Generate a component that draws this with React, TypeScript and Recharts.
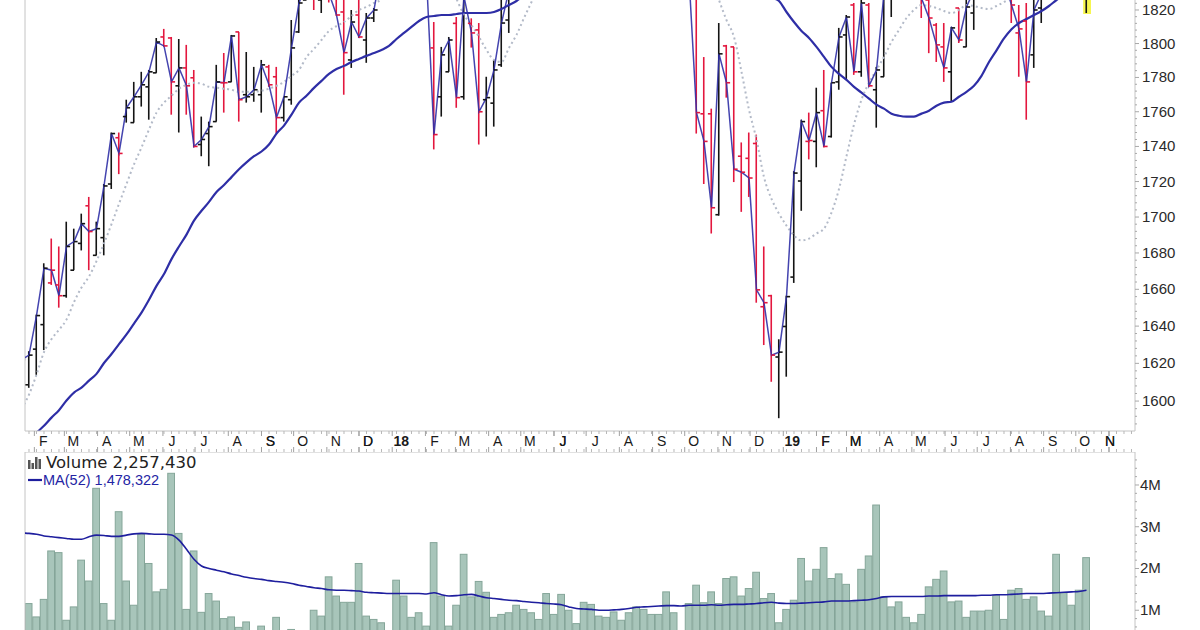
import React from "react";
import {
  ComposedChart,
  Bar,
  Line,
  Scatter,
  XAxis,
  YAxis,
  ReferenceLine,
  ReferenceArea,
} from "recharts";

// --- weekly bars, first one is the week ending 20 Jan 2017 ---
const WEEK = 7 * 24 * 3600 * 1000;
const firstWeek = Date.UTC(2017, 0, 20);

const openPx = [
  1618, 1608.6, 1627.6, 1640.8, 1663.5, 1662.4, 1656.5, 1670.5, 1685.3, 1706.3,
  1678.7, 1688.5, 1718.6, 1745.0, 1757.2, 1753.7, 1768.7, 1774.5, 1782.7, 1803.9,
  1803.3, 1775.1, 1785.6, 1779.8, 1741.1, 1747.4, 1754.3, 1776.9, 1777.4, 1806.9,
  1769.9, 1769.9, 1769.9, 1786.2, 1780.4, 1756.6, 1767.0, 1806.9, 1826.0, 1838.0,
  1826.0, 1840.0, 1832.0, 1818.8, 1790.3, 1817.0, 1802.1, 1815.2, 1830, 1846,
  1862, 1875, 1890, 1898, 1868, 1797.4, 1768.7, 1783.3, 1812.0, 1768.7,
  1812.0, 1808.1, 1767.0, 1765.0, 1787.4, 1814.0, 1832, 1845, 1856, 1866,
  1874, 1884, 1880, 1895, 1906, 1900, 1920, 1930, 1940, 1948,
  1955, 1960, 1965, 1975, 1970, 1962, 1958, 1940, 1915, 1890,
  1832, 1758.8, 1758.8, 1701.3, 1798.6, 1798.0, 1734.4, 1733.2, 1741.7, 1650.5,
  1656.5, 1623.4, 1639.8, 1666.7, 1720.3, 1742.9, 1742.9, 1760.6, 1745.7, 1777.4,
  1805.1, 1823.0, 1783.3, 1823.0, 1772.8, 1780.4, 1826.5, 1838, 1845, 1850,
  1838, 1826, 1811.0, 1798.0, 1783.3, 1821.2, 1798.0, 1818.2, 1832, 1840,
  1836, 1844, 1836, 1806.3, 1813.4, 1793.3, 1821.2, 1830, 1838, 1832,
  1840, 1836, 1832,
];

const highPx = [
  1629, 1626.5, 1646.2, 1674.3, 1688.0, 1683.6, 1697.4, 1693.5, 1701.9, 1711.3,
  1697.4, 1718.6, 1748.0, 1748.0, 1767.0, 1777.4, 1783.3, 1784.4, 1803.3, 1808.7,
  1803.9, 1802.7, 1799.2, 1784.4, 1757.2, 1754.3, 1787.4, 1794.4, 1805.1, 1806.9,
  1795.0, 1786.2, 1790.3, 1787.4, 1786.2, 1768.7, 1814.0, 1835.0, 1840, 1842,
  1845, 1849, 1838, 1826, 1820.0, 1826, 1818.2, 1821.2, 1850, 1868,
  1880, 1895, 1905, 1902, 1880, 1812.8, 1798.0, 1803.9, 1815.8, 1835,
  1815, 1812.2, 1780.4, 1790.3, 1828, 1838, 1848, 1860, 1870, 1880,
  1890, 1896, 1900, 1912, 1918, 1925, 1935, 1945, 1952, 1962,
  1968, 1972, 1980, 1988, 1982, 1975, 1966, 1950, 1925, 1895,
  1840, 1792.0, 1761.8, 1812.2, 1799.2, 1798.0, 1742.3, 1748.0, 1746.8, 1683.6,
  1657.0, 1632.9, 1656.5, 1725.9, 1755.4, 1759.5, 1774.0, 1784.4, 1776.9, 1809.3,
  1817.0, 1824.2, 1835, 1824.2, 1786.2, 1835, 1840, 1850, 1855, 1856,
  1842, 1830, 1812.2, 1812.2, 1809.9, 1821.2, 1828, 1840, 1845, 1850,
  1848, 1852, 1840, 1823.0, 1824.2, 1826.5, 1835, 1842, 1846, 1844,
  1850, 1848, 1845,
];

const lowPx = [
  1612, 1607.0, 1613.9, 1627.1, 1662.4, 1650.0, 1655.4, 1670.5, 1681.4, 1670.5,
  1678.7, 1678.7, 1715.8, 1724.2, 1753.7, 1753.7, 1763.0, 1755.4, 1782.7, 1798.0,
  1758.3, 1748.0, 1758.3, 1739.4, 1734.4, 1728.7, 1754.3, 1759.5, 1777.4, 1754.3,
  1765.3, 1765.8, 1759.5, 1774.5, 1747.4, 1754.3, 1764.1, 1806.3, 1827, 1820.0,
  1818.2, 1824.5, 1816.5, 1769.9, 1785.6, 1803.3, 1788.6, 1812.8, 1828, 1840,
  1855, 1868, 1880, 1860, 1830, 1738.3, 1757.2, 1783.3, 1762.3, 1767.0,
  1797.6, 1741.1, 1745.7, 1751.4, 1786.2, 1806.3, 1829, 1838, 1850, 1858,
  1866, 1872, 1874, 1888, 1895, 1896, 1910, 1922, 1930, 1940,
  1945, 1950, 1956, 1962, 1955, 1948, 1930, 1905, 1880, 1830,
  1747.4, 1718.6, 1690.8, 1700.8, 1768.2, 1719.7, 1702.9, 1711.3, 1652.7, 1629.8,
  1610.2, 1591.0, 1612.9, 1663.5, 1703.5, 1732.6, 1728.1, 1739.4, 1745.1, 1772.8,
  1778.6, 1781.5, 1780.4, 1774.5, 1750.8, 1780.4, 1815.8, 1830, 1835, 1832,
  1815.2, 1794.3, 1789.1, 1777.4, 1765.8, 1800.3, 1798.0, 1808.1, 1828, 1830,
  1829, 1830, 1812.2, 1780.4, 1755.4, 1785.6, 1812.2, 1827, 1828, 1827,
  1832, 1829, 1818.2,
];

const closePx = [
  1622, 1624.4, 1645.7, 1671.6, 1670.5, 1656.5, 1683.6, 1686.3, 1696.3, 1691.9,
  1693.5, 1717.5, 1747.4, 1736.0, 1762.3, 1768.7, 1775.7, 1783.3, 1800.9, 1798.6,
  1777.4, 1785.6, 1775.1, 1740.0, 1744.0, 1751.4, 1777.4, 1776.9, 1804.5, 1767.0,
  1768.7, 1772.8, 1787.4, 1775.7, 1756.6, 1768.7, 1797.4, 1824.2, 1836, 1828,
  1838, 1830, 1817, 1794.6, 1812.8, 1803.9, 1815.2, 1820.0, 1846, 1862,
  1875, 1890, 1898, 1870, 1840, 1746.8, 1793.3, 1802.1, 1768.2, 1828,
  1806.3, 1760.0, 1768.2, 1784.4, 1812.2, 1832, 1845, 1856, 1866, 1874,
  1884, 1880, 1895, 1906, 1900, 1920, 1930, 1940, 1948, 1955,
  1960, 1965, 1975, 1970, 1962, 1958, 1940, 1915, 1890, 1840,
  1759.5, 1742.9, 1705.2, 1793.9, 1776.9, 1727.0, 1725.3, 1722.0, 1659.7, 1652.7,
  1624.4, 1626.0, 1656.0, 1724.8, 1754.3, 1743.4, 1759.5, 1740.0, 1776.9, 1803.9,
  1815.8, 1783.3, 1824.2, 1775.1, 1784.4, 1830, 1838, 1845, 1850, 1840,
  1827, 1815.2, 1799.2, 1785.6, 1809.3, 1802.1, 1821.8, 1832, 1840, 1836,
  1844, 1838, 1823.0, 1808.7, 1777.4, 1820.0, 1830, 1838, 1832, 1840,
  1836, 1834, 1840,
];

// dotted grey overlay (short average)
const maFast = [
  1596, 1603.4, 1614, 1626, 1633, 1638, 1643.5, 1653, 1661, 1667,
  1675.5, 1685.3, 1696, 1707.4, 1718.6, 1729.8, 1739.4, 1749.7, 1759.5, 1765.3,
  1769.3, 1773.4, 1775.7, 1776.9, 1776.3, 1774.5, 1774.0, 1773.4, 1772.8, 1771.6,
  1771.6, 1771.6, 1772.2, 1773.4, 1775.1, 1777.4, 1780.9, 1784.4, 1792.0, 1796.8,
  1802.1, 1807.5, 1810.4, 1812.8, 1816.4, 1820.0, 1821.8, 1824.2, 1826.5, 1835,
  1845, 1855, 1862, 1865, 1862, 1855, 1845, 1835, 1826.5, 1817,
  1811, 1803.9, 1796.2, 1790.3, 1789.1, 1797.4, 1805.1, 1815.2, 1824.8, 1835,
  1845, 1855, 1865, 1875, 1885, 1895, 1905, 1915, 1925, 1935,
  1942, 1948, 1952, 1955, 1957, 1958, 1956, 1952, 1945, 1930,
  1905, 1870, 1840, 1826, 1814, 1803.9, 1783.3, 1761.2, 1744.0, 1722.5,
  1710.2, 1701.9, 1695.2, 1689.7, 1686.9, 1688.0, 1690.8, 1693.5, 1702.5, 1715.8,
  1734.4, 1752.6, 1767.0, 1776.9, 1784.4, 1792.1, 1801.0, 1808.1, 1815.2, 1820.0,
  1823.0, 1822.4, 1821.2, 1819.4, 1818.2, 1820.0, 1823.0, 1822.4, 1821.2, 1820.6,
  1822.4, 1824.8, 1827.5, 1830, 1829, 1828, 1830, 1833, 1836, 1838,
  1840, 1842, 1844,
];

// solid blue overlay (long average)
const maSlow = [
  1575, 1578, 1583.3, 1587.0, 1591.3, 1595.2, 1600.3, 1604.5, 1607.1, 1610.8,
  1614.4, 1620.2, 1625.0, 1630.3, 1635.5, 1641.4, 1647.3, 1654.3, 1661.9, 1668.4,
  1676.6, 1683.6, 1690.2, 1698.0, 1703.5, 1708.5, 1714.1, 1718.0, 1722.5, 1727.0,
  1730.9, 1734.4, 1737.1, 1741.1, 1747.4, 1752.0, 1758.3, 1765.3, 1769.3, 1773.9,
  1778.0, 1782.1, 1785.0, 1786.8, 1789.1, 1790.9, 1792.7, 1794.4, 1796.2, 1798.6,
  1802.7, 1806.3, 1809.9, 1813.4, 1815.8, 1816.4, 1817.0, 1817.0, 1817.6, 1818.2,
  1818.2, 1818.2, 1818.2, 1818.8, 1820.6, 1823.0, 1825.4, 1829, 1832, 1835,
  1838, 1841, 1844, 1847, 1850, 1853, 1856, 1858, 1860, 1862,
  1864, 1865, 1866, 1867, 1867, 1866, 1865, 1863, 1860, 1857,
  1854, 1851, 1848, 1846, 1843, 1840, 1837, 1835, 1832, 1830,
  1827.5, 1825.4, 1818.8, 1812.8, 1807.5, 1803.3, 1798.0, 1792.1, 1786.2, 1782.1,
  1778.6, 1774.5, 1771.1, 1767.6, 1764.1, 1761.8, 1758.9, 1757.7, 1757.2, 1757.2,
  1758.9, 1760.6, 1763.5, 1765.3, 1765.8, 1768.7, 1771.6, 1775.1, 1780.9, 1789.1,
  1796.0, 1803.0, 1808.5, 1812.2, 1814.6, 1817.0, 1819.4, 1822.4, 1826.0, 1829,
  1832, 1835, 1838,
];

// volume in millions
const volume = [
  2.52, 1.16, 0.84, 1.26, 2.42, 2.38, 0.76, 1.08, 2.2, 1.7,
  3.92, 1.16, 0.76, 3.36, 1.7, 1.12, 2.82, 2.12, 1.44, 1.5,
  4.28, 2.84, 1.02, 2.42, 0.95, 1.4, 1.22, 0.8, 0.84, 0.59,
  0.72, 0.45, 0.62, 0.44, 0.83, 0.4, 0.54, 0.4, 0.45, 1.0,
  0.86, 1.8, 1.34, 1.19, 1.19, 2.12, 0.86, 0.78, 0.7, 0.45,
  1.72, 1.34, 0.83, 0.94, 0.62, 2.62, 1.34, 0.62, 1.12, 2.34,
  1.32, 1.69, 1.43, 0.83, 0.9, 0.94, 1.12, 1.02, 0.94, 0.78,
  1.4, 0.9, 1.38, 1.0, 0.68, 1.19, 1.14, 0.86, 0.83, 0.96,
  0.76, 0.94, 1.08, 1.02, 0.9, 0.9, 1.44, 0.94, 0.4, 1.16,
  1.6, 1.18, 1.44, 1.16, 1.76, 1.8, 1.34, 1.52, 1.91, 1.28,
  1.4, 0.7, 1.02, 1.24, 2.24, 1.7, 1.98, 2.5, 1.76, 1.87,
  1.62, 1.2, 1.98, 2.3, 3.52, 1.32, 1.08, 1.2, 0.83, 0.7,
  0.9, 1.56, 1.74, 1.94, 1.2, 1.22, 0.83, 0.98, 0.98, 1.0,
  1.36, 0.78, 1.48, 1.52, 1.26, 1.32, 0.98, 0.86, 2.34, 1.42,
  1.12, 1.48, 2.26,
];

const volumeMa = [
  2.85, 2.84, 2.82, 2.78, 2.76, 2.74, 2.72, 2.7, 2.7, 2.76,
  2.8, 2.79, 2.77, 2.77, 2.8, 2.83, 2.84, 2.83, 2.82, 2.82,
  2.8, 2.68, 2.46, 2.22, 2.06, 2.0, 1.96, 1.92, 1.87, 1.83,
  1.79, 1.76, 1.74, 1.71, 1.69, 1.67, 1.64, 1.6, 1.57, 1.54,
  1.52, 1.49, 1.48, 1.48, 1.47, 1.46, 1.43, 1.42, 1.41, 1.4,
  1.4, 1.4, 1.4, 1.4, 1.39, 1.42, 1.37, 1.34, 1.35, 1.37,
  1.38, 1.34, 1.3, 1.28, 1.26, 1.24, 1.23, 1.21, 1.19, 1.18,
  1.16, 1.15, 1.13, 1.08, 1.04, 1.03, 1.02, 1.0, 1.0, 1.01,
  1.02, 1.04, 1.07, 1.08, 1.09, 1.1, 1.11, 1.11, 1.1, 1.12,
  1.12, 1.12, 1.13, 1.12, 1.13, 1.14, 1.14, 1.15, 1.16, 1.18,
  1.19, 1.17, 1.16, 1.16, 1.17, 1.18, 1.19, 1.2, 1.22, 1.22,
  1.22, 1.23, 1.24, 1.25, 1.28, 1.32, 1.33, 1.33, 1.33, 1.33,
  1.33, 1.34, 1.34, 1.35, 1.35, 1.35, 1.35, 1.35, 1.36, 1.36,
  1.37, 1.37, 1.38, 1.39, 1.4, 1.4, 1.4, 1.41, 1.42, 1.43,
  1.44, 1.45, 1.48,
];

const monthStarts = [
  "2017-02-01", "2017-03-01", "2017-04-01", "2017-05-01", "2017-06-01", "2017-07-01",
  "2017-08-01", "2017-09-01", "2017-10-01", "2017-11-01", "2017-12-01", "2018-01-01",
  "2018-02-01", "2018-03-01", "2018-04-01", "2018-05-01", "2018-06-01", "2018-07-01",
  "2018-08-01", "2018-09-01", "2018-10-01", "2018-11-01", "2018-12-01", "2019-01-01",
  "2019-02-01", "2019-03-01", "2019-04-01", "2019-05-01", "2019-06-01", "2019-07-01",
  "2019-08-01", "2019-09-01", "2019-10-01", "2019-11-01",
];
const monthLabels = [
  "F", "M", "A", "M", "J", "J", "A", "S", "O", "N", "D", "18",
  "F", "M", "A", "M", "J", "J", "A", "S", "O", "N", "D", "19",
  "F", "M", "A", "M", "J", "J", "A", "S", "O", "N",
];

const RED = "#e3173e";
const INK = "#141414";
const NAVY = "#2e2ea6";
const FRAME = "#c4c4c4";
const AXIS_FONT = "'Liberation Sans', Arial, sans-serif";

const X_DOMAIN: [number, number] = [0.467, 148.467];
const PRICE_DOMAIN: [number, number] = [1584.3, 1826];
const VOL_TOP = 4.79;

const rows = closePx.map((close, i) => ({
  x: i,
  open: openPx[i],
  close,
  range: [lowPx[i], highPx[i]],
  up: i === 0 || close >= closePx[i - 1],
  fast: maFast[i],
  slow: maSlow[i],
  volume: volume[i],
  volumeMa: volumeMa[i],
}));

const monthTicks = monthStarts.map((d) => (Date.parse(d) - firstWeek) / WEEK);
const monthLabelAt = new Map(monthTicks.map((v, i) => [v, monthLabels[i]]));
const weekTicks = Array.from({ length: 148 }, (_, i) => i + 1);
const axisTicks = [...weekTicks, ...monthTicks].sort((a, b) => a - b);

const priceTicks: number[] = [];
for (let v = 1588; v <= 1824; v += 4) priceTicks.push(v);
const volumeTicks: number[] = [];
for (let v = 0.2; v < 4.7; v += 0.2) volumeTicks.push(Math.round(v * 10) / 10);

// --- marks ---
function HiLo(props: any) {
  const { x, y, width, height, payload } = props;
  const cx = x + width / 2;
  const top = Math.min(y, y + height);
  return (
    <line
      x1={cx}
      x2={cx}
      y1={top}
      y2={top + Math.abs(height)}
      stroke={payload.up ? INK : RED}
      strokeWidth={1.6}
    />
  );
}

function OpenTick(props: any) {
  const { cx, cy, payload } = props;
  return (
    <line x1={cx - 3.6} x2={cx} y1={cy} y2={cy} stroke={payload.up ? INK : RED} strokeWidth={1.6} />
  );
}

function CloseTick(props: any) {
  const { cx, cy, payload } = props;
  return (
    <line x1={cx} x2={cx + 3.6} y1={cy} y2={cy} stroke={payload.up ? INK : RED} strokeWidth={1.6} />
  );
}

function VolumeBar(props: any) {
  const { x, y, width, height } = props;
  if (!height || height <= 0) return null;
  return <rect x={x} y={y} width={width} height={height} fill="#a8c5ba" stroke="#85a699" strokeWidth={1} />;
}

// --- axis ticks ---
function DateTick(props: any) {
  const { x, y, payload } = props;
  const label = monthLabelAt.get(payload.value);
  if (label === undefined) {
    return (
      <g>
        <line x1={x} x2={x} y1={y} y2={y + 3} stroke="#b8b8b8" />
        <line x1={x} x2={x} y1={y + 18} y2={y + 21} stroke="#b8b8b8" />
      </g>
    );
  }
  return (
    <g>
      <line x1={x} x2={x} y1={y} y2={y + 5} stroke="#a0a0a0" />
      <line x1={x} x2={x} y1={y + 16} y2={y + 21} stroke="#a0a0a0" />
      <text
        x={Math.min(x + 9, 1110)}
        y={y + 15}
        textAnchor="middle"
        fontSize={14}
        fontWeight={label.length > 1 ? 700 : 400}
        fontFamily={AXIS_FONT}
        fill="#1a1a1a"
      >
        {label}
      </text>
    </g>
  );
}

function PriceTick(props: any) {
  const { x, y, payload } = props;
  const v = payload.value;
  const major = v % 20 === 0;
  return (
    <g>
      <line x1={x} x2={x + (major ? 4 : 2)} y1={y} y2={y} stroke="#a8a8a8" />
      {major && (
        <text x={x + 7} y={y + 5} fontSize={15} fontFamily={AXIS_FONT} fill="#2a2a2a">
          {v}
        </text>
      )}
    </g>
  );
}

function VolumeTick(props: any) {
  const { x, y, payload } = props;
  const v = payload.value;
  const major = Number.isInteger(v);
  return (
    <g>
      <line x1={x} x2={x + (major ? 4 : 2)} y1={y} y2={y} stroke="#a8a8a8" />
      {major && (
        <text x={x + 5} y={y + 5} fontSize={15} fontFamily={AXIS_FONT} fill="#2a2a2a">
          {v}M
        </text>
      )}
    </g>
  );
}

function PricePanel() {
  return (
    <ComposedChart width={1200} height={452} data={rows} margin={{ top: 0, right: 0, bottom: 0, left: 25 }}>
      <XAxis
        dataKey="x"
        type="number"
        domain={X_DOMAIN}
        allowDataOverflow
        ticks={axisTicks}
        interval={0}
        tick={<DateTick />}
        tickSize={0}
        tickMargin={0}
        tickLine={false}
        axisLine={{ stroke: FRAME }}
        height={21}
      />
      <YAxis
        orientation="right"
        scale="log"
        domain={PRICE_DOMAIN}
        allowDataOverflow
        ticks={priceTicks}
        interval={0}
        tick={<PriceTick />}
        tickSize={0}
        tickMargin={0}
        tickLine={false}
        axisLine={{ stroke: FRAME }}
        width={65}
      />
      <ReferenceLine x={X_DOMAIN[0]} stroke={FRAME} />
      <ReferenceArea x1={141.55} x2={142.6} y1={1817.6} y2={1826} fill="#f6f650" fillOpacity={1} stroke="none" />
      <Line dataKey="slow" stroke={NAVY} strokeWidth={2.2} dot={false} isAnimationActive={false} type="monotone" />
      <Line
        dataKey="fast"
        stroke="#b3bac8"
        strokeWidth={2}
        strokeDasharray="2 3"
        dot={false}
        isAnimationActive={false}
        type="monotone"
      />
      <Bar dataKey="range" barSize={3} shape={<HiLo />} isAnimationActive={false} />
      <Scatter dataKey="open" shape={<OpenTick />} isAnimationActive={false} />
      <Scatter dataKey="close" shape={<CloseTick />} isAnimationActive={false} />
      <Line dataKey="close" stroke="#3030a6" strokeWidth={1.5} strokeOpacity={0.9} dot={false} isAnimationActive={false} />
    </ComposedChart>
  );
}

function VolumePanel() {
  return (
    <ComposedChart width={1200} height={200} data={rows} margin={{ top: 0, right: 0, bottom: 0, left: 25 }}>
      <XAxis dataKey="x" type="number" domain={X_DOMAIN} allowDataOverflow hide />
      <YAxis
        orientation="right"
        domain={[0, VOL_TOP]}
        allowDataOverflow
        ticks={volumeTicks}
        interval={0}
        tick={<VolumeTick />}
        tickSize={0}
        tickMargin={0}
        tickLine={false}
        axisLine={{ stroke: FRAME }}
        width={65}
      />
      <ReferenceLine x={X_DOMAIN[0]} stroke={FRAME} />
      <ReferenceLine y={VOL_TOP} stroke={FRAME} />
      <Bar dataKey="volume" barSize={7.5} shape={<VolumeBar />} isAnimationActive={false} />
      <Line dataKey="volumeMa" stroke="#1e1e9e" strokeWidth={1.6} dot={false} isAnimationActive={false} type="monotone" />
    </ComposedChart>
  );
}

export default function App() {
  return (
    <div
      style={{
        position: "absolute",
        left: 0,
        top: 0,
        width: 1200,
        height: 630,
        overflow: "hidden",
        background: "#fff",
      }}
    >
      <div style={{ position: "absolute", left: 0, top: 0 }}>
        <PricePanel />
      </div>
      <div style={{ position: "absolute", left: 0, top: 452 }}>
        <VolumePanel />
      </div>

      {/* volume legend */}
      <svg style={{ position: "absolute", left: 28, top: 456 }} width={14} height={13}>
        <rect x={0} y={4} width={2.5} height={9} fill="#555" />
        <rect x={3.5} y={7} width={2.5} height={6} fill="#555" />
        <rect x={7} y={1} width={2.5} height={12} fill="#555" />
        <rect x={10.5} y={3} width={2.5} height={10} fill="#555" />
      </svg>
      <div
        style={{
          position: "absolute",
          left: 46,
          top: 453,
          fontFamily: "'DejaVu Sans', Verdana, sans-serif",
          fontSize: 16.5,
          lineHeight: "20px",
          color: "#222",
          whiteSpace: "nowrap",
        }}
      >
        Volume 2,257,430
      </div>
      <svg style={{ position: "absolute", left: 28, top: 478 }} width={14} height={4}>
        <line x1={0} x2={14} y1={2} y2={2} stroke="#1e1e9e" strokeWidth={2.2} />
      </svg>
      <div
        style={{
          position: "absolute",
          left: 43,
          top: 470,
          fontFamily: AXIS_FONT,
          fontSize: 14.5,
          lineHeight: "20px",
          color: "#2424a4",
          whiteSpace: "nowrap",
        }}
      >
        MA(52) 1,478,322
      </div>
    </div>
  );
}
